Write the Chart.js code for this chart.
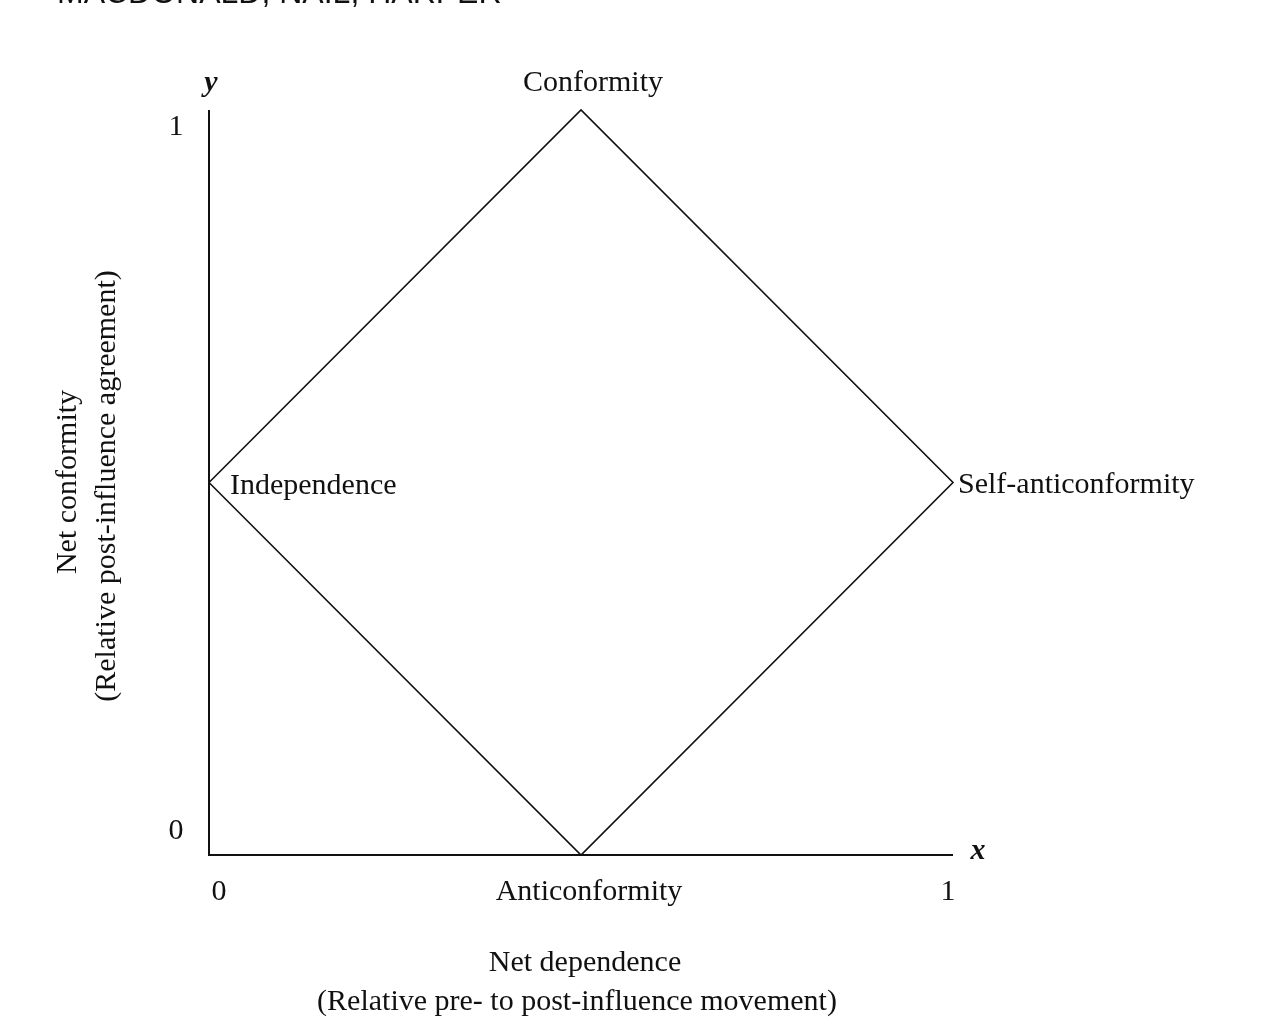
<!DOCTYPE html>
<html><head><meta charset="utf-8">
<script src="https://cdn.jsdelivr.net/npm/chart.js@4"></script>
<style>body{margin:0;background:#fff}canvas{display:block}</style>
</head><body>
<canvas id="c" width="1261" height="1030"></canvas>
<script>
// DATA
const diamondX=[0,0.5,1,0.5,0];
const diamondY=[0.5,1,0.5,0,0.5];
const tickVals=[0,1];
const regionNames=["Conformity","Independence","Self-anticonformity","Anticonformity"];

const serif='"Liberation Serif", "DejaVu Serif", serif';

// annotations drawn through the scales
const decor={
  id:'decor',
  afterDraw(chart){
    const c=chart.ctx, xs=chart.scales.x, ys=chart.scales.y;
    const px=v=>xs.getPixelForValue(v), py=v=>ys.getPixelForValue(v);
    c.save();
    c.strokeStyle='#111'; c.lineWidth=2;
    c.beginPath();
    c.moveTo(px(0),py(1)); c.lineTo(px(0),py(0)); c.lineTo(px(1),py(0));
    c.stroke();
    c.fillStyle='#111';
    c.font='30px '+serif; c.textBaseline='middle';
    // tick labels
    c.textAlign='center';
    c.fillText(String(tickVals[1]),176,py(1)+17);
    c.fillText(String(tickVals[0]),176,py(0)-24);
    c.fillText(String(tickVals[0]),px(0)+10,py(0)+37);
    c.fillText(String(tickVals[1]),px(1)-5,py(0)+37);
    // region names
    c.fillText(regionNames[0],px(0.5)+12,py(1)-27);
    c.fillText(regionNames[3],px(0.5)+8,py(0)+37);
    c.textAlign='left';
    c.fillText(regionNames[1],px(0)+21,py(0.5)+4);
    c.fillText(regionNames[2],px(1)+5,py(0.5)+3);
    // axis letters
    c.font='italic bold 30px '+serif; c.textAlign='center';
    c.fillText('y',px(0)+2,py(1)-27);
    c.fillText('x',px(1)+25,py(0)-4);
    // axis titles
    c.font='30px '+serif;
    c.fillText('Net dependence',585,963);
    c.fillText('(Relative pre- to post-influence movement)',577,1002);
    c.save();
    c.translate(68,482); c.rotate(-Math.PI/2);
    c.fillText('Net conformity',0,0);
    c.restore();
    c.save();
    c.translate(107,486); c.rotate(-Math.PI/2);
    c.fillText('(Relative post-influence agreement)',0,0);
    c.restore();
    // header
    c.font='32px "Liberation Sans", sans-serif'; c.textAlign='left';
    c.fillText('MACDONALD, NAIL, HARPER',57,-6);
    c.restore();
  }
};

new Chart(document.getElementById('c'),{
  type:'scatter',
  data:{datasets:[{
    data:diamondX.map((x,i)=>({x:x,y:diamondY[i]})),
    showLine:true,borderColor:'#111',borderWidth:1.6,pointRadius:0,fill:false,clip:false
  }]},
  options:{
    responsive:false,animation:false,
    layout:{padding:{left:209,right:308,top:110,bottom:175}},
    plugins:{legend:{display:false},tooltip:{enabled:false}},
    scales:{
      x:{type:'linear',min:0,max:1,display:false},
      y:{type:'linear',min:0,max:1,display:false}
    }
  },
  plugins:[decor]
});
</script>
</body></html>
